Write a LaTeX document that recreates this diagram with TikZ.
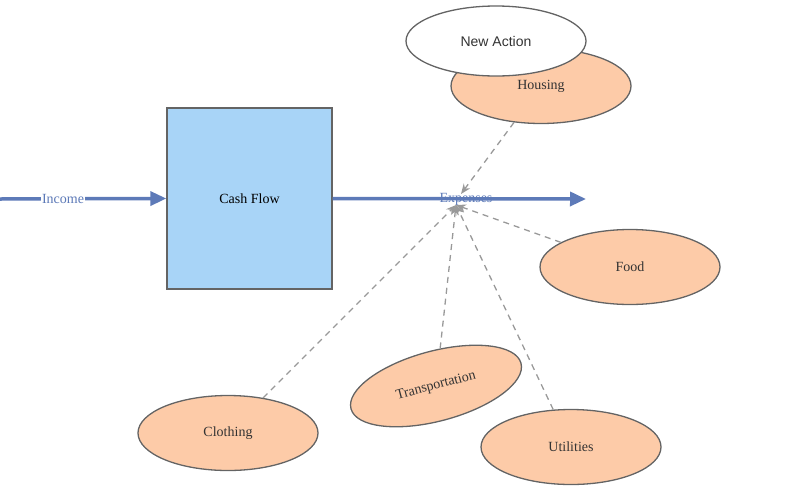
\documentclass[tikz,border=0pt]{standalone}
\usepackage{fontspec}
\setmainfont{Liberation Serif}
\newfontfamily\actfont{Liberation Sans}
\usetikzlibrary{arrows.meta,shapes.geometric}
\definecolor{Flow}{RGB}{93,122,184}
\definecolor{Box}{RGB}{168,212,247}
\definecolor{Peach}{RGB}{253,203,168}
\definecolor{Edge}{RGB}{100,100,100}
\tikzset{
  item/.style={ellipse, draw=Edge, line width=1.3pt, fill=Peach, minimum width=180pt, minimum height=75pt, font=\fontsize{14}{14}\selectfont, text=black!80},
  link/.style={dashed, draw=black!40, line width=1.3pt, dash pattern=on 6pt off 5pt, -{Stealth[length=10pt,width=8pt]}},
  flow/.style={draw=Flow, line width=3.5pt, -{Triangle[length=16pt,width=14pt]}},
  tag/.style={text=Flow, fill=white, inner sep=1pt, font=\fontsize{14}{14}\selectfont}
}
\begin{document}
\begin{tikzpicture}[x=1pt,y=-1pt]
      \useasboundingbox (0,0) rectangle (800,501);
      \node[draw=Edge, line width=1.3pt, fill=Box, minimum width=165pt, minimum height=181pt, font=\fontsize{14}{14}\selectfont] (cash) at (249.5,198.5) {Cash Flow};
      \coordinate (src) at (0,199);
      \coordinate (sink) at (586,199);
      \coordinate (hub) at (456,205);
      \coordinate (top) at (461,194);
      \draw[flow] (src) -- (cash.west);
      \draw[flow] (cash.east) -- (sink);
      \node[tag] at (63,199) {Income};
      \node[tag, fill=none] at (466,199) {Expenses};
      \node[item] (housing) at (541,86) {Housing};
      \node[item, fill=white, minimum height=70pt, font=\actfont\fontsize{14}{14}\selectfont] (action) at (496,41) {New Action};
      \node[item] (food) at (630,267) {Food};
      \node[item] (clothing) at (228,433) {Clothing};
      \node[item, rotate=15, minimum width=176pt, minimum height=70pt] (transport) at (436,386) {Transportation};
      \node[item] (utilities) at (571,447) {Utilities};
      \draw[link] (housing) -- (top);
      \draw[link] (food) -- (hub);
      \draw[link] (clothing) -- (hub);
      \draw[link] (transport) -- (hub);
      \draw[link] (utilities) -- (hub);
\end{tikzpicture}
\end{document}
